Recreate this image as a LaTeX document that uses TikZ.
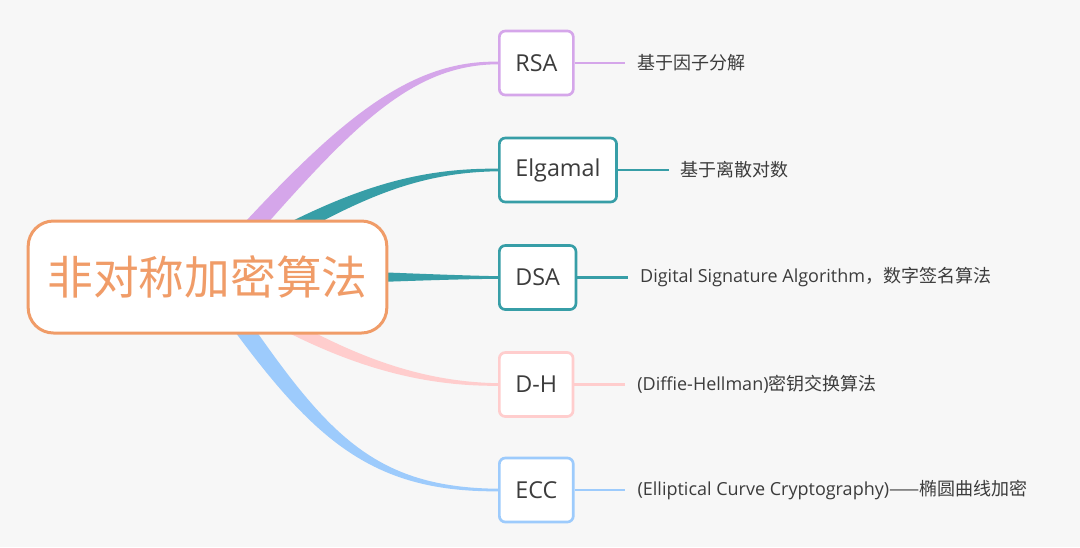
\documentclass[tikz,border=0pt]{standalone}
\usepackage{fontspec}
\setmainfont{Open Sans}
\newfontfamily\cjk{Noto Sans CJK SC}
\usetikzlibrary{positioning,calc}
\definecolor{bgcol}{HTML}{F7F7F7}
\definecolor{rootcol}{HTML}{F09C68}
\definecolor{rsacol}{HTML}{D5A6EA}
\definecolor{dsacol}{HTML}{379EA7}
\definecolor{dhcol}{HTML}{FFCDCD}
\definecolor{ecccol}{HTML}{9DCBFC}
\definecolor{txtcol}{HTML}{3C3C3C}
\pgfdeclarelayer{back}
\pgfsetlayers{back,main}
\tikzset{
  rootbox/.style={rectangle, draw=rootcol, fill=white, line width=2.25pt, rounded corners=19pt, minimum width=269pt, minimum height=84pt, text=rootcol, font=\cjk\fontsize{34.3pt}{38pt}\selectfont},
  algbox/.style={rectangle, draw=#1, fill=white, line width=2pt, rounded corners=4.5pt, minimum height=48pt, inner xsep=12pt, text=txtcol, font=\fontsize{17.5pt}{20pt}\selectfont},
  note/.style={inner xsep=9pt, text=txtcol, font=\fontsize{13.5pt}{15pt}\selectfont},
  twig/.style={draw=#1, line width=1.6pt}
}
% tapered branch: colour, start, control 1, control 2, end, half width at start
\newcommand{\branch}[6]{%
  \fill[#1] ($(#2)+(#6)$) .. controls ($(#3)+0.9*(#6)$) and ($(#4)+(0,2.4)$) .. ($(#5)+(0,1.3)$)
    -- ($(#5)-(0,1.3)$) .. controls ($(#4)-(0,2.4)$) and ($(#3)-0.9*(#6)$) .. ($(#2)-(#6)$) -- cycle;}

\begin{document}
\begin{tikzpicture}[x=0.75pt, y=-0.75pt, node distance=38pt]
  \useasboundingbox (0,0) rectangle (1080,547);
  % nodes
  \node[rootbox] (root) at (207.5,277) {非对称加密算法};
  \node[algbox=rsacol, anchor=west] (rsa) at (498,63) {RSA};
  \node[algbox=dsacol, anchor=west] (elg) at (498,170) {Elgamal};
  \node[algbox=dsacol, anchor=west] (dsa) at (498,277.5) {DSA};
  \node[algbox=dhcol, anchor=west] (dh) at (498,384.5) {D-H};
  \node[algbox=ecccol, anchor=west] (ecc) at (498,490) {ECC};
  \node[note, right=of rsa] (rsa-note) {\cjk 基于因子分解};
  \node[note, right=of elg] (elg-note) {\cjk 基于离散对数};
  \node[note, right=of dsa] (dsa-note) {Digital Signature Algorithm{\cjk ，数字签名算法}};
  \node[note, right=of dh] (dh-note) {(Diffie-Hellman){\cjk 密钥交换算法}};
  \node[note, right=of ecc] (ecc-note) {(Elliptical Curve Cryptography){\cjk ——椭圆曲线加密}};
  % leaf lines
  \draw[twig=rsacol] (rsa) -- (rsa-note);
  \draw[twig=dsacol, line width=2pt] (elg) -- (elg-note);
  \draw[twig=dsacol, line width=2pt] (dsa) -- (dsa-note);
  \draw[twig=dhcol] (dh) -- (dh-note);
  \draw[twig=ecccol] (ecc) -- (ecc-note);
  % branches behind the nodes
  \begin{pgfonlayer}{back}
    \fill[bgcol] (0,0) rectangle (1080,547);
    \branch{rsacol}{root.center}{330,140}{400,62}{rsa.west}{7,6.3}
    \branch{dsacol}{root.center}{330,205}{400,170}{elg.west}{4.4,7.6}
    \branch{dsacol}{root.center}{300,277}{420,277}{dsa.west}{0,10}
    \branch{dhcol}{root.center}{325,355}{410,384}{dh.west}{-4,6.2}
    \branch{ecccol}{root.center}{310,425}{360,490}{ecc.west}{-7.8,5.4}
  \end{pgfonlayer}
\end{tikzpicture}
\end{document}
